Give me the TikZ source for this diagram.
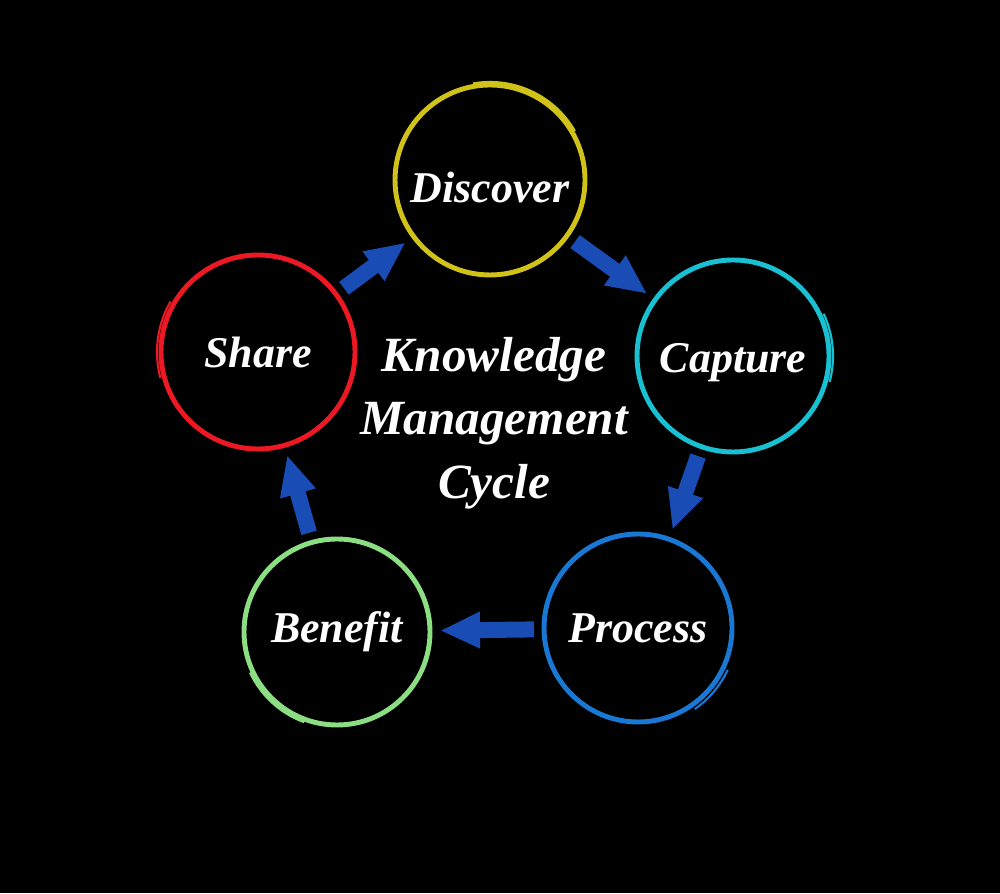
\documentclass[tikz,border=0pt]{standalone}
\usepackage{fontspec}
\setmainfont{Liberation Serif}
\usetikzlibrary{arrows.meta}
\definecolor{discyellow}{RGB}{208,194,24}
\definecolor{captcyan}{RGB}{24,192,210}
\definecolor{procblue}{RGB}{24,120,212}
\definecolor{benegreen}{RGB}{140,222,130}
\definecolor{sharered}{RGB}{236,24,36}
\definecolor{arrowblue}{RGB}{26,76,182}
\begin{document}
\begin{tikzpicture}[
    ring/.style={circle, draw=#1, line width=1.4pt, text=white, inner sep=0pt, outer sep=0pt,
      font=\fontsize{12.5}{15}\selectfont\bfseries\itshape},
    tail/.style={draw=#1, line width=0.6pt},
    flow/.style={draw=arrowblue, line width=0.16cm, -{Triangle[length=0.4cm,width=0.34cm]},
      shorten <=0.1cm, shorten >=0.1cm}
  ]
        \fill[black] (0,0) rectangle (10,8.93);
        \useasboundingbox (0,0) rectangle (10,8.93);

        \node[ring=discyellow, minimum size=1.9cm, text height=0.46cm] (discover) at (4.90,7.13) {Discover};
        \node[ring=captcyan, minimum size=1.92cm, text height=0.42cm] (capture) at (7.33,5.37) {Capture};
        \node[ring=procblue, minimum size=1.88cm] (process) at (6.38,2.65) {Process};
        \node[ring=benegreen, minimum size=1.86cm] (benefit) at (3.37,2.61) {Benefit};
        \node[ring=sharered, minimum size=1.94cm] (share) at (2.58,5.41) {Share};

        \draw[tail=discyellow] ([shift={(100:0.98)}]discover.center) arc[start angle=100, end angle=30, radius=0.98];
        \draw[tail=captcyan] ([shift={(25:1.0)}]capture.center) arc[start angle=25, end angle=-15, radius=1.0];
        \draw[tail=procblue] ([shift={(-25:0.99)}]process.center) arc[start angle=-25, end angle=-55, radius=0.99];
        \draw[tail=benegreen] ([shift={(205:0.96)}]benefit.center) arc[start angle=205, end angle=250, radius=0.96];
        \draw[tail=sharered] ([shift={(150:1.01)}]share.center) arc[start angle=150, end angle=195, radius=1.01];

        \node[text=white, align=center, font=\fontsize{14}{18}\selectfont\bfseries\itshape] (title) at (4.94,4.70)
          {Knowledge\\Management\\Cycle};

        \draw[flow] (discover) -- (capture);
        \draw[flow] (capture) -- (process);
        \draw[flow] (process) -- (benefit);
        \draw[flow] (benefit) -- (share);
        \draw[flow] (share) -- (discover);
      \end{tikzpicture}
\end{document}
